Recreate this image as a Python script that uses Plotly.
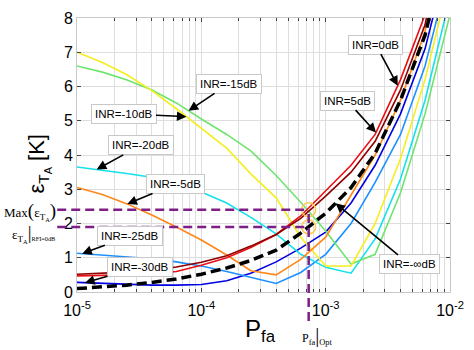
import plotly.graph_objects as go
import numpy as np

# ---- data ----
pfa = [1.0e-5, 1.6e-5, 2.5e-5, 4.0e-5, 6.3e-5, 1.0e-4, 1.6e-4, 2.5e-4,
       4.0e-4, 6.3e-4, 1.0e-3, 1.6e-3, 2.5e-3, 4.0e-3, 6.3e-3, 1.0e-2]

eps_m30 = [0.28, 0.25, 0.22, 0.20, 0.20, 0.22, 0.33, 0.55, 0.88, 1.28, 1.75, 2.60, 3.70, 5.20, 7.10, 10.0]
eps_m25 = [1.13, 1.08, 1.03, 0.97, 0.88, 0.76, 0.60, 0.42, 0.25, 0.57, 1.10, 2.00, 3.20, 4.60, 6.60, 9.5]
eps_m20 = [3.65, 3.56, 3.46, 3.35, 3.18, 2.92, 2.60, 2.18, 1.70, 1.10, 0.72, 0.55, 1.55, 3.30, 5.60, 8.6]
eps_m15 = [6.60, 6.42, 6.20, 5.90, 5.52, 5.05, 4.60, 4.12, 3.40, 2.62, 1.78, 0.82, 1.10, 2.90, 5.20, 8.1]
eps_m10 = [7.00, 6.70, 6.35, 5.88, 5.35, 4.78, 4.20, 3.45, 2.75, 1.60, 0.76, 0.76, 2.00, 3.90, 6.20, 9.2]
eps_m5 = [3.05, 2.85, 2.58, 2.25, 1.90, 1.52, 1.08, 0.62, 0.50, 0.95, 1.60, 2.85, 4.00, 5.60, 7.60, 11.0]
eps_0 = [0.47, 0.48, 0.50, 0.53, 0.60, 0.78, 1.00, 1.30, 1.68, 2.22, 2.95, 3.70, 4.60, 6.20, 8.10, 12.0]
eps_5 = [0.52, 0.54, 0.58, 0.64, 0.73, 0.87, 1.06, 1.34, 1.68, 2.15, 2.80, 3.50, 4.40, 5.90, 7.80, 11.5]
eps_inf = [0.10, 0.14, 0.20, 0.28, 0.38, 0.52, 0.70, 0.92, 1.22, 1.72, 2.30, 3.05, 4.05, 5.60, 7.50, 10.5]

pfa_opt = 7.3e-4
eps_max = 2.4
eps_rfi0 = 1.9

x_tickvals = [1e-5, 1e-4, 1e-3, 1e-2]
x_ticktext = ["10<sup>-5</sup>", "10<sup>-4</sup>", "10<sup>-3</sup>", "10<sup>-2</sup>"]
y_tickvals = [0, 1, 2, 3, 4, 5, 6, 7, 8]

series = [
    ("INR=-30dB", eps_m30, "rgb(0,0,225)"),
    ("INR=-25dB", eps_m25, "rgb(30,144,255)"),
    ("INR=-20dB", eps_m20, "rgb(20,225,235)"),
    ("INR=-15dB", eps_m15, "rgb(110,228,110)"),
    ("INR=-10dB", eps_m10, "rgb(245,238,30)"),
    ("INR=-5dB", eps_m5, "rgb(255,135,25)"),
    ("INR=0dB", eps_0, "rgb(235,15,20)"),
    ("INR=5dB", eps_5, "rgb(140,0,0)"),
]

# annotation: label, curve, head Pfa, text offset (px)
labels = [
    ("INR=-15dB", eps_m15, 7.9e-5, 40, -27),
    ("INR=-10dB", eps_m10, 7.6e-5, -63, -3),
    ("INR=-20dB", eps_m20, 1.44e-5, 44, -24),
    ("INR=-5dB", eps_m5, 2.54e-5, 48, -20),
    ("INR=-25dB", eps_m25, 1.1e-5, 48, -18),
    ("INR=-30dB", eps_m30, 1.16e-5, 55, -16),
    ("INR=-\u221edB", eps_inf, 1.2e-3, 74, 61),
    ("INR=0dB", eps_0, 3.8e-3, -22, -41),
    ("INR=5dB", eps_0, 2.54e-3, -29, -32),
]

fig = go.Figure()
for name, ys, col in series:
    fig.add_trace(go.Scatter(x=pfa, y=ys, mode="lines", name=name,
                             line=dict(color=col, width=1.6)))
fig.add_trace(go.Scatter(x=pfa, y=eps_inf, mode="lines", name="INR=-inf",
                         line=dict(color="black", width=3.5, dash="10px,5px")))

# markers (circles)
fig.add_trace(go.Scatter(x=[pfa_opt, pfa_opt], y=[eps_max, eps_rfi0], mode="markers",
                         marker=dict(symbol="circle-open", size=14,
                                     line=dict(color="rgb(140,0,0)", width=1.5)),
                         showlegend=False))

x_lo, x_hi = -5, -2
frac_opt = (np.log10(pfa_opt) - x_lo) / (x_hi - x_lo)
purple = "rgb(126,30,135)"
for yv in (eps_max, eps_rfi0):
    fig.add_shape(type="line", xref="paper", yref="y", x0=-0.053, x1=frac_opt,
                  y0=yv, y1=yv, line=dict(color=purple, width=2.5, dash="9px,5px"))
fig.add_shape(type="line", xref="x", yref="paper", x0=pfa_opt, x1=pfa_opt,
              y0=-0.106, y1=eps_max / 8.0, line=dict(color=purple, width=2.5, dash="9px,5px"))

logx = np.log10(pfa)
for txt, ys, hx, ax, ay in labels:
    hy = float(np.interp(np.log10(hx), logx, ys))
    fig.add_annotation(x=np.log10(hx), y=hy, xref="x", yref="y", text=txt,
                       showarrow=True, ax=ax, ay=ay, arrowhead=2, arrowsize=1.2,
                       arrowwidth=1.6, arrowcolor="black",
                       font=dict(family="Liberation Sans", size=11.5, color="black"),
                       bgcolor="white", bordercolor="#c8c8c8", borderwidth=1, borderpad=3)


def px_x(p):
    return (p - 77) / 380.0


def px_y(p):
    return (292 - p) / 282.0


def label(text, xp, yp, size, family, angle=0):
    fig.add_annotation(xref="paper", yref="paper", x=px_x(xp), y=px_y(yp),
                       xanchor="center", yanchor="middle", showarrow=False,
                       textangle=angle, text=text,
                       font=dict(family=family, size=size, color="black"))


# axis titles and extra labels
label("\u03b5<sub>T<sub>A</sub></sub> [K]", 38, 160, 22, "Liberation Sans", -90)
label("P<sub>fa</sub>", 264, 332, 24, "Liberation Sans")
label("P<sub>fa</sub><span style='font-size:20px'>|</span><sub>Opt</sub>", 321, 337, 12,
      "Liberation Serif")
label("Max<span style='font-size:19px'>(</span>\u03b5<sub>T<sub>A</sub></sub>"
      "<span style='font-size:19px'>)</span>", 29, 209, 13, "Liberation Serif")
label("\u03b5<sub>T<sub>A</sub></sub><span style='font-size:19px'>|</span>"
      "<span style='font-size:9px'><sub>RFI=0dB</sub></span>", 33, 232, 13, "Liberation Serif")

minor_vals = [m * 10.0 ** d for d in (-5, -4, -3) for m in range(2, 10)]

fig.update_layout(
    width=474, height=350, margin=dict(l=77, r=17, t=10, b=58),
    paper_bgcolor="white", plot_bgcolor="white", showlegend=False,
    font=dict(family="Liberation Sans", size=15, color="black"),
    xaxis=dict(type="log", range=[x_lo, x_hi], tickvals=x_tickvals, ticktext=x_ticktext,
               showgrid=True, gridcolor="#dedede", gridwidth=1,
               minor=dict(tickvals=minor_vals, showgrid=True, gridcolor="#dedede",
                          ticks="inside", ticklen=3, tickcolor="#444"),
               showline=True, linecolor="#c8c8c8", mirror="ticks",
               ticks="inside", ticklen=4, tickcolor="#444", zeroline=False,
               ticklabelstandoff=4, tickfont=dict(size=16)),
    yaxis=dict(range=[0, 8], tickvals=y_tickvals, showgrid=True, gridcolor="#dedede",
               showline=True, linecolor="#c8c8c8", mirror="ticks",
               ticks="inside", ticklen=4, tickcolor="#444", zeroline=False,
               tickfont=dict(size=16)),
)

fig.write_html("out.html")
